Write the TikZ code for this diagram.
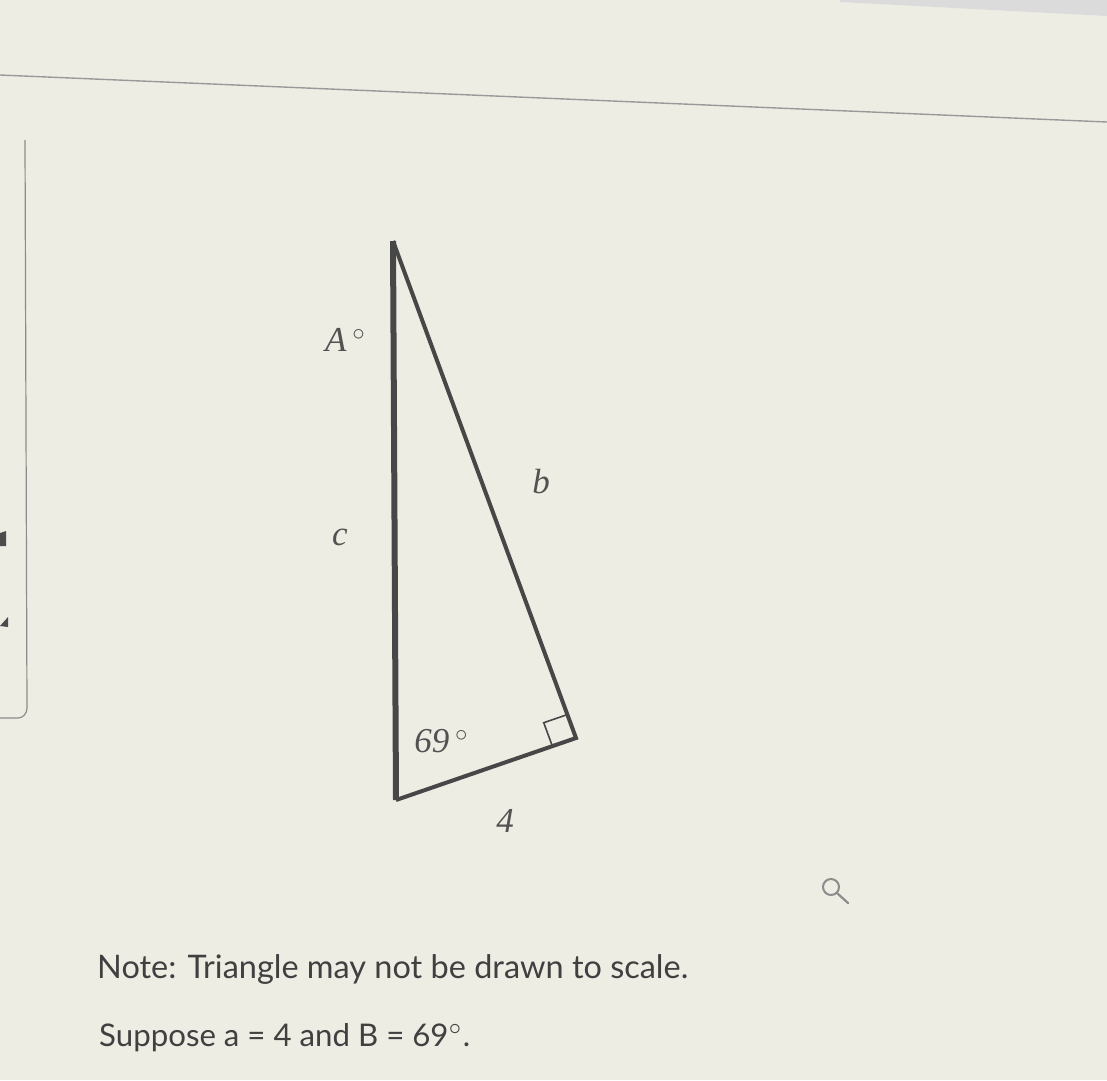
\documentclass[tikz,border=0pt]{standalone}
\usetikzlibrary{calc}
\usepackage{fontspec}
\setmainfont{Liberation Serif}
\newfontfamily\uifont{Lato}
\begin{document}
\begin{tikzpicture}[x=1pt,y=-1pt,
  edge/.style={draw=black!72,line width=4pt,line join=miter},
  lbl/.style={font=\fontsize{35}{38}\selectfont\itshape,text=black!68,inner sep=0pt},
  uitext/.style={font=\uifont,text=black!75,inner sep=0pt,anchor=base west}]
\fill[black!8!white!96!yellow] (0,0) rectangle (1107,1080);
\useasboundingbox (0,0) rectangle (1107,1080);
\fill[black!14] (840,0) -- (1107,0) -- (1107,16) -- (840,2) -- cycle;
% top rule
\draw[black!40,line width=1.4pt] (0,75) -- (1107,122);
% left panel border
\draw[black!45,line width=1.2pt] (25,140) -- (27,708) to[out=-90,in=0] (18,718) -- (0,718);
\fill[black!70] (0,533) -- (6,531) -- (6,546) -- (0,546) -- cycle;
\fill[black!70] (0,626) -- (8,617) -- (8,627) -- cycle;
% triangle
\coordinate (T) at (393,241);
\coordinate (L) at (396,800);
\coordinate (R) at (576,738);
\draw[edge] (T) -- (R) -- (L);
\draw[black!72,line width=6pt] (L) -- (T);
\draw[black!72,line width=1.6pt] ($(R)+(-0.346*25,-0.938*25)$) -- ($(R)+(-0.346*25-0.945*25,-0.938*25+0.326*25)$) -- ($(R)+(-0.945*25,0.326*25)$);
\node[lbl] (A) at (345,340) {\textit{A}\,\raisebox{0.7ex}{\fontsize{32}{32}\selectfont$\circ$}};
\node[lbl] (c) at (340,537) {c};
\node[lbl] (b) at (541,482) {b};
\node[lbl] (ang) at (441,741) {69\,\raisebox{0.7ex}{\fontsize{32}{32}\selectfont$\circ$}};
\node[lbl] (four) at (505,821) {4};
% magnifier
\draw[black!45,line width=2pt] (831,887) circle (8);
\draw[black!45,line width=2.2pt,line cap=round] (837,893) -- (848,903);
% text
\node[uitext] (note) at (97,978) {\resizebox{591pt}{!}{Note: Triangle may not be drawn to scale.}};
\node[uitext] (sup) at (99,1046) {\resizebox{371pt}{!}{Suppose a = 4 and B = 69$^{\circ}$.}};
\end{tikzpicture}
\end{document}
